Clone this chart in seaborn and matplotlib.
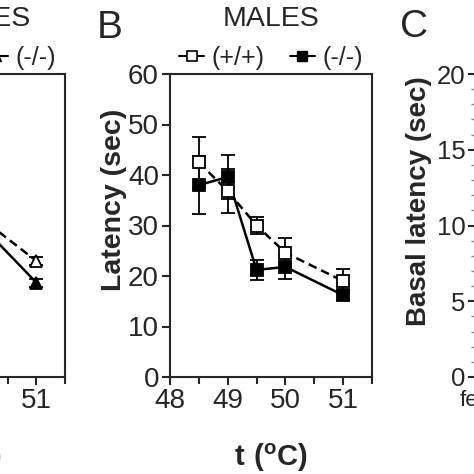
import numpy as np
import pandas as pd
import matplotlib
matplotlib.use('Agg')
import matplotlib.pyplot as plt
from matplotlib.lines import Line2D
from matplotlib.ticker import MultipleLocator
import seaborn as sns

# ---- data ----
temps = [48.5, 49.0, 49.5, 50.0, 51.0]

# panel A, females (only the 50-51 segment is inside the crop)
fem_wt = [45.0, 40.0, 35.0, 31.8, 23.0]
fem_wt_sem = [2.0, 2.0, 1.5, 1.2, 0.8]
fem_ko = [42.0, 38.0, 33.0, 30.5, 18.7]
fem_ko_sem = [2.0, 2.0, 1.5, 1.2, 0.8]

# panel B, males
male_wt = [42.5, 36.8, 30.0, 24.6, 19.0]
male_wt_sem = [5.1, 4.4, 1.6, 2.9, 2.4]
male_ko = [38.0, 39.6, 21.2, 21.8, 16.2]
male_ko_sem = [5.8, 4.4, 2.0, 2.4, 1.0]

# panel C categories (bars lie outside the crop)
basal_groups = ['females', 'males']

geno = ['(+/+)', '(-/-)']

sns.set_style('ticks')
plt.rcParams['font.family'] = ['Liberation Sans', 'DejaVu Sans']
plt.rcParams['mathtext.fontset'] = 'custom'
plt.rcParams['mathtext.rm'] = 'Liberation Sans'
plt.rcParams['mathtext.bf'] = 'Liberation Sans:bold'
plt.rcParams['axes.linewidth'] = 1.5
plt.rcParams['xtick.major.width'] = 1.5
plt.rcParams['ytick.major.width'] = 1.5
plt.rcParams['xtick.minor.width'] = 1.5
plt.rcParams['ytick.minor.width'] = 1.2

fig = plt.figure(figsize=(4.74, 4.74), dpi=100)

W, H = 474.0, 474.0
bot = 1 - 377 / H
hgt = (377 - 74) / H


def px_axes(x0, x1):
    return fig.add_axes([x0 / W, bot, (x1 - x0) / W, hgt])


def draw_panel(ax, wt, wt_sem, ko, ko_sem, marker, title):
    df = pd.DataFrame({'t': temps * 2,
                       'lat': wt + ko,
                       'g': [geno[0]] * 5 + [geno[1]] * 5})
    ax.errorbar(temps, ko, yerr=ko_sem, fmt='none', ecolor='black',
                elinewidth=1.3, capsize=5, capthick=1.3, zorder=2)
    ax.errorbar(temps, wt, yerr=wt_sem, fmt='none', ecolor='black',
                elinewidth=1.3, capsize=5, capthick=1.3, zorder=2)
    sns.lineplot(data=df[df.g == geno[1]], x='t', y='lat', ax=ax,
                 color='black', lw=1.8, marker=marker, markersize=9,
                 markerfacecolor='black', markeredgecolor='black',
                 markeredgewidth=1.3, zorder=3, legend=False)
    sns.lineplot(data=df[df.g == geno[0]], x='t', y='lat', ax=ax,
                 color='black', lw=1.8, linestyle=(0, (3.5, 2)),
                 marker=marker, markersize=9, markerfacecolor='white',
                 markeredgecolor='black', markeredgewidth=1.3, zorder=4,
                 legend=False)
    ax.set_xlim(48, 51.5)
    ax.set_ylim(0, 60)
    ax.xaxis.set_major_locator(MultipleLocator(1))
    ax.xaxis.set_minor_locator(MultipleLocator(0.5))
    ax.yaxis.set_major_locator(MultipleLocator(10))
    ax.tick_params(axis='both', which='major', labelsize=20, length=6,
                   pad=2, direction='out')
    ax.tick_params(axis='x', which='minor', length=5, direction='out')
    ax.set_xlabel(r'$\mathbf{t\ (^{o}C)}$', fontsize=21, labelpad=20)
    ax.set_ylabel('Latency (sec)', fontsize=20.5, fontweight='bold')
    ax.yaxis.set_label_coords(-0.215, 0.585)
    handles = [
        Line2D([], [], color='black', lw=1.5, marker=marker, markersize=7,
               markerfacecolor='white', markeredgecolor='black',
               markeredgewidth=1.2),
        Line2D([], [], color='black', lw=1.5, marker=marker, markersize=7,
               markerfacecolor='black', markeredgecolor='black'),
    ]
    leg = ax.legend(handles, geno, ncol=2, title=title, frameon=False,
                    loc='lower center', bbox_to_anchor=(0.5, 1.005),
                    fontsize=18, title_fontsize=20.5, handlelength=1.0,
                    handletextpad=0.3, columnspacing=1.0, borderaxespad=0.0,
                    borderpad=0.1)
    leg._legend_box.sep = 10
    for s in ax.spines.values():
        s.set_visible(True)


# panel A (mostly outside the crop)
axA = px_axes(-136, 65)
draw_panel(axA, fem_wt, fem_wt_sem, fem_ko, fem_ko_sem, '^', 'FEMALES')

# panel B
axB = px_axes(170, 372)
draw_panel(axB, male_wt, male_wt_sem, male_ko, male_ko_sem, 's', 'MALES')

# panel C (only its y axis reaches into the crop)
axC = px_axes(475, 665)
axC.set_ylim(0, 20)
axC.set_xlim(-0.5, 3.5)
axC.set_xticks([0, 2])
axC.set_xticklabels(basal_groups, fontsize=16)
axC.yaxis.set_major_locator(MultipleLocator(5))
axC.yaxis.set_minor_locator(MultipleLocator(1))
axC.tick_params(axis='y', which='major', labelsize=18.5, length=5, pad=2)
axC.tick_params(axis='y', which='minor', length=3, width=1.0,
                color='#888888')
axC.tick_params(axis='x', length=0, pad=9)
axC.set_ylabel('Basal latency (sec)', fontsize=20, fontweight='bold')
axC.yaxis.set_label_coords(-0.225, 0.58)
sns.despine(ax=axC)

# panel letters
fig.text(97 / W, 1 - 38 / H, 'B', fontsize=28)
fig.text(400 / W, 1 - 37 / H, 'C', fontsize=28)

fig.savefig('out.png', dpi=100)
